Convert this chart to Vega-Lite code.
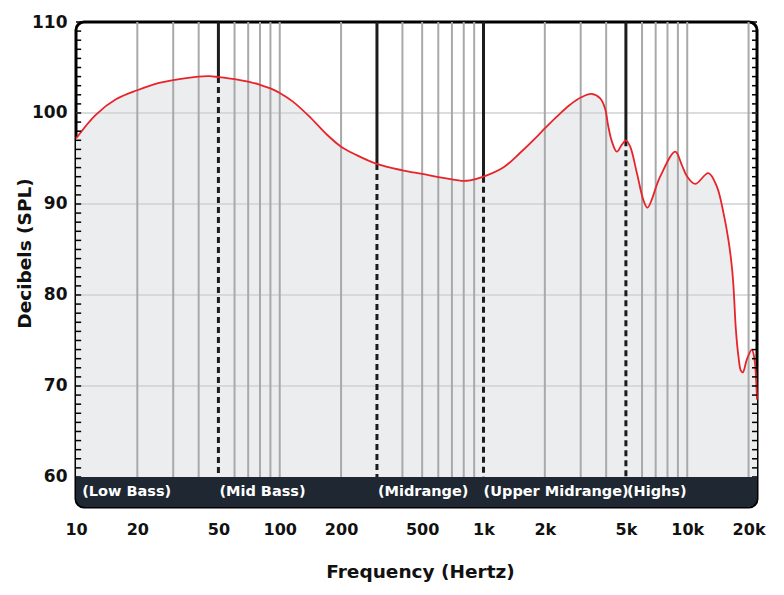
{
  "$schema": "https://vega.github.io/schema/vega-lite/v6.json",
  "width": 681,
  "height": 485,
  "autosize": {"type": "none"},
  "padding": {"left": 76, "top": 22, "right": 27, "bottom": 88},
  "background": "white",
  "config": {
    "view": {"stroke": "#000000", "strokeWidth": 3, "cornerRadius": 8},
    "font": "DejaVu Sans"
  },
  "datasets": {
    "curve": [
      {"f": 10, "db": 97.2}, {"f": 12.5, "db": 99.8}, {"f": 15.7, "db": 101.5}, {"f": 20, "db": 102.5},
      {"f": 25.6, "db": 103.3}, {"f": 30, "db": 103.6}, {"f": 40, "db": 104.0}, {"f": 45, "db": 104.05},
      {"f": 50, "db": 103.95}, {"f": 61, "db": 103.7}, {"f": 70, "db": 103.45}, {"f": 80, "db": 103.1},
      {"f": 90, "db": 102.7}, {"f": 100, "db": 102.2}, {"f": 116, "db": 101.25}, {"f": 140, "db": 99.6},
      {"f": 169, "db": 97.7}, {"f": 200, "db": 96.3}, {"f": 237, "db": 95.4}, {"f": 300, "db": 94.4},
      {"f": 400, "db": 93.7}, {"f": 500, "db": 93.3}, {"f": 600, "db": 92.95}, {"f": 700, "db": 92.7},
      {"f": 780, "db": 92.55}, {"f": 860, "db": 92.6}, {"f": 1000, "db": 93.0}, {"f": 1250, "db": 94.0},
      {"f": 1510, "db": 95.6}, {"f": 1830, "db": 97.4}, {"f": 2000, "db": 98.3}, {"f": 2290, "db": 99.6},
      {"f": 2660, "db": 100.9}, {"f": 3000, "db": 101.7}, {"f": 3400, "db": 102.1}, {"f": 3740, "db": 101.6},
      {"f": 3950, "db": 100.5}, {"f": 4100, "db": 98.5}, {"f": 4270, "db": 96.85}, {"f": 4510, "db": 95.75},
      {"f": 4770, "db": 96.5}, {"f": 5000, "db": 97.0}, {"f": 5250, "db": 96.3}, {"f": 5660, "db": 93.4},
      {"f": 6100, "db": 90.4}, {"f": 6380, "db": 89.6}, {"f": 7360, "db": 93.0}, {"f": 8730, "db": 95.75},
      {"f": 9400, "db": 94.3}, {"f": 10000, "db": 93.0}, {"f": 10940, "db": 92.2}, {"f": 12700, "db": 93.4},
      {"f": 13980, "db": 91.9}, {"f": 15070, "db": 89.0}, {"f": 15940, "db": 86.0}, {"f": 16560, "db": 83.1},
      {"f": 16870, "db": 80.9}, {"f": 17330, "db": 76.2}, {"f": 17850, "db": 73.2}, {"f": 18330, "db": 71.7},
      {"f": 18750, "db": 71.5}, {"f": 19600, "db": 72.9}, {"f": 20740, "db": 74.0}, {"f": 21300, "db": 73.2},
      {"f": 22000, "db": 68.5}
    ],
    "bounds": [
      {"f": 50, "v": 103.95}, {"f": 300, "v": 94.4}, {"f": 1000, "v": 93.0}, {"f": 5000, "v": 97.0}
    ],
    "dbticks": [
      {"v": 60}, {"v": 61}, {"v": 62}, {"v": 63}, {"v": 64}, {"v": 65}, {"v": 66}, {"v": 67}, {"v": 68}, {"v": 69},
      {"v": 70}, {"v": 71}, {"v": 72}, {"v": 73}, {"v": 74}, {"v": 75}, {"v": 76}, {"v": 77}, {"v": 78}, {"v": 79},
      {"v": 80}, {"v": 81}, {"v": 82}, {"v": 83}, {"v": 84}, {"v": 85}, {"v": 86}, {"v": 87}, {"v": 88}, {"v": 89},
      {"v": 90}, {"v": 91}, {"v": 92}, {"v": 93}, {"v": 94}, {"v": 95}, {"v": 96}, {"v": 97}, {"v": 98}, {"v": 99},
      {"v": 100}, {"v": 101}, {"v": 102}, {"v": 103}, {"v": 104}, {"v": 105}, {"v": 106}, {"v": 107}, {"v": 108}, {"v": 109},
      {"v": 110}
    ]
  },
  "resolve": {"axis": {"x": "independent", "y": "independent"}},
  "layer": [
    {
      "data": {"name": "curve"},
      "mark": {"type": "area", "interpolate": "catmull-rom", "fill": "#ebedef"},
      "encoding": {
        "x": {
          "field": "f", "type": "quantitative",
          "scale": {"type": "log", "domain": [10, 22000], "nice": false},
          "axis": {
            "orient": "bottom",
            "values": [10, 20, 50, 100, 200, 500, 1000, 2000, 5000, 10000, 20000],
            "labelExpr": "datum.value >= 1000 ? (datum.value / 1000) + 'k' : datum.label",
            "tickSize": 0, "tickColor": "transparent", "domain": false, "grid": false,
            "labelPadding": 14,
            "labelFont": "DejaVu Sans", "labelFontWeight": "bold", "labelFontSize": 16, "labelColor": "#111111",
            "labelFlush": false, "labelOverlap": false,
            "title": "Frequency (Hertz)", "titleFont": "DejaVu Sans", "titleFontSize": 18.5, "titleFontWeight": "bold",
            "titleColor": "#111111", "titleX": 344, "titleY": 70, "titleAlign": "center", "titleBaseline": "alphabetic"
          }
        },
        "y": {
          "field": "db", "type": "quantitative",
          "scale": {"domain": [56.7, 110], "nice": false, "zero": false},
          "axis": {
            "orient": "left",
            "values": [60, 70, 80, 90, 100, 110],
            "tickSize": 0, "tickColor": "transparent",
            "domain": false, "grid": false,
            "labelFont": "DejaVu Sans", "labelFontWeight": "bold", "labelFontSize": 17, "labelColor": "#111111",
            "labelPadding": 9, "labelOverlap": false, "labelFlush": false, "labelBound": false,
            "title": "Decibels (SPL)", "titleFont": "DejaVu Sans", "titleFontSize": 18.5, "titleFontWeight": "bold",
            "titleColor": "#111111", "titleX": -52, "titleY": 231, "titleAngle": -90,
            "titleAlign": "center", "titleBaseline": "middle"
          }
        },
        "y2": {"datum": 60}
      }
    },
    {
      "data": {"values": [{"g": 70}, {"g": 80}, {"g": 90}, {"g": 100}]},
      "mark": {"type": "rule", "color": "#cfd1d3", "strokeWidth": 1.5},
      "encoding": {
        "y": {"field": "g", "type": "quantitative", "scale": {"domain": [56.7, 110], "nice": false, "zero": false}, "axis": null}
      }
    },
    {
      "data": {"values": [
        {"f": 20}, {"f": 30}, {"f": 40}, {"f": 60}, {"f": 70}, {"f": 80}, {"f": 90}, {"f": 100},
        {"f": 200}, {"f": 400}, {"f": 500}, {"f": 600}, {"f": 700}, {"f": 800}, {"f": 900},
        {"f": 2000}, {"f": 3000}, {"f": 4000}, {"f": 6000}, {"f": 7000}, {"f": 8000}, {"f": 9000},
        {"f": 10000}, {"f": 20000}
      ]},
      "mark": {"type": "rule", "color": "#a9a9a9", "strokeWidth": 2},
      "encoding": {
        "x": {"field": "f", "type": "quantitative", "scale": {"type": "log", "domain": [10, 22000], "nice": false}, "axis": null}
      }
    },
    {
      "data": {"name": "bounds"},
      "mark": {"type": "rule", "color": "#1c1c1c", "strokeWidth": 3},
      "encoding": {
        "x": {"field": "f", "type": "quantitative", "scale": {"type": "log", "domain": [10, 22000], "nice": false}, "axis": null},
        "y": {"field": "v", "type": "quantitative", "scale": {"domain": [56.7, 110], "nice": false, "zero": false}, "axis": null},
        "y2": {"datum": 110}
      }
    },
    {
      "data": {"name": "bounds"},
      "mark": {"type": "rule", "color": "#1c1c1c", "strokeWidth": 3, "strokeDash": [6, 4]},
      "encoding": {
        "x": {"field": "f", "type": "quantitative", "scale": {"type": "log", "domain": [10, 22000], "nice": false}, "axis": null},
        "y": {"field": "v", "type": "quantitative", "scale": {"domain": [56.7, 110], "nice": false, "zero": false}, "axis": null},
        "y2": {"datum": 60}
      }
    },
    {
      "data": {"name": "curve"},
      "mark": {"type": "line", "interpolate": "catmull-rom", "color": "#e8242b", "strokeWidth": 1.8},
      "encoding": {
        "x": {"field": "f", "type": "quantitative", "scale": {"type": "log", "domain": [10, 22000], "nice": false}, "axis": null},
        "y": {"field": "db", "type": "quantitative", "scale": {"domain": [56.7, 110], "nice": false, "zero": false}, "axis": null}
      }
    },
    {
      "data": {"name": "dbticks"},
      "mark": {"type": "rule", "color": "#000000", "strokeWidth": 1.5},
      "encoding": {
        "x": {"datum": 10, "type": "quantitative", "scale": {"type": "log", "domain": [10, 22000], "nice": false}, "axis": null},
        "x2": {"datum": 10.6},
        "y": {"field": "v", "type": "quantitative", "scale": {"domain": [56.7, 110], "nice": false, "zero": false}, "axis": null}
      }
    },
    {
      "data": {"name": "dbticks"},
      "mark": {"type": "rule", "color": "#000000", "strokeWidth": 1.5},
      "encoding": {
        "x": {"datum": 20790, "type": "quantitative", "scale": {"type": "log", "domain": [10, 22000], "nice": false}, "axis": null},
        "x2": {"datum": 22000},
        "y": {"field": "v", "type": "quantitative", "scale": {"domain": [56.7, 110], "nice": false, "zero": false}, "axis": null}
      }
    },
    {
      "data": {"values": [{"f": 10, "f2": 22000, "lo": 56.7, "hi": 60}]},
      "mark": {"type": "rect", "fill": "#1e2732", "cornerRadiusBottomLeft": 9, "cornerRadiusBottomRight": 9},
      "encoding": {
        "x": {"field": "f", "type": "quantitative", "scale": {"type": "log", "domain": [10, 22000], "nice": false}, "axis": null},
        "x2": {"field": "f2"},
        "y": {"field": "lo", "type": "quantitative", "scale": {"domain": [56.7, 110], "nice": false, "zero": false}, "axis": null},
        "y2": {"field": "hi"}
      }
    },
    {
      "data": {"values": [
        {"f": 10.6, "t": "(Low Bass)"},
        {"f": 50, "t": "(Mid Bass)"},
        {"f": 300, "t": "(Midrange)"},
        {"f": 990, "t": "(Upper Midrange)"},
        {"f": 5000, "t": "(Highs)"}
      ]},
      "mark": {"type": "text", "align": "left", "baseline": "middle", "dx": 1, "color": "#ffffff", "font": "DejaVu Sans", "fontWeight": "bold", "fontSize": 14.5},
      "encoding": {
        "x": {"field": "f", "type": "quantitative", "scale": {"type": "log", "domain": [10, 22000], "nice": false}, "axis": null},
        "y": {"datum": 58.4, "scale": {"domain": [56.7, 110], "nice": false, "zero": false}, "axis": null},
        "text": {"field": "t"}
      }
    }
  ]
}
